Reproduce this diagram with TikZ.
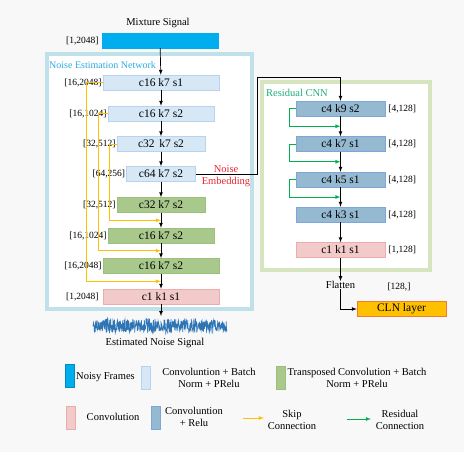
\documentclass[tikz,border=0pt]{standalone}
\usepackage{fontspec}
\setmainfont{Liberation Serif}
\usetikzlibrary{positioning,calc}
\definecolor{pagegrey}{RGB}{248,248,248}
\definecolor{noisyblue}{RGB}{0,174,239}
\definecolor{convblue}{RGB}{214,231,246}
\definecolor{convblueline}{RGB}{185,211,238}
\definecolor{tconvgreen}{RGB}{169,201,140}
\definecolor{tconvgreenline}{RGB}{156,191,124}
\definecolor{convpink}{RGB}{242,202,202}
\definecolor{convpinkline}{RGB}{236,172,172}
\definecolor{relublue}{RGB}{148,185,209}
\definecolor{relublueline}{RGB}{126,166,216}
\definecolor{skipyellow}{RGB}{255,192,0}
\definecolor{resgreen}{RGB}{0,176,80}
\definecolor{netframe}{RGB}{192,224,234}
\definecolor{netlabel}{RGB}{45,170,225}
\definecolor{resframe}{RGB}{215,228,192}
\definecolor{reslabel}{RGB}{31,176,120}
\definecolor{embred}{RGB}{232,40,50}
\definecolor{clnfill}{RGB}{255,192,0}
\definecolor{clnline}{RGB}{237,125,49}
\definecolor{wavecol}{RGB}{46,117,182}

\begin{document}
\begin{tikzpicture}[x=1pt, y=-1pt, >=latex,
    blk/.style={draw, rectangle, inner sep=0pt, minimum height=15pt, font=\fontsize{11.5}{12}\selectfont},
    conv/.style={blk, fill=convblue, draw=convblueline},
    tconv/.style={blk, fill=tconvgreen, draw=tconvgreenline},
    plain/.style={blk, fill=convpink, draw=convpinkline},
    relu/.style={blk, fill=relublue, draw=relublueline},
    dim/.style={inner sep=0pt, font=\fontsize{9.5}{11}\selectfont},
    txt/.style={inner sep=0pt, align=center, font=\fontsize{10.5}{12.5}\selectfont},
    swatch/.style={draw, rectangle, inner sep=0pt, minimum width=9pt, minimum height=23pt},
    flow/.style={->, black, line width=0.7pt},
    skip/.style={->, skipyellow, line width=0.8pt},
    res/.style={->, resgreen, line width=0.8pt}]

    % page and group frames
    \fill[pagegrey] (0,0) rectangle (464,452);
    \useasboundingbox (0,0) rectangle (464,452);
    \draw[netframe, line width=3.5pt, fill=white] (47,54) rectangle (252,309);
    \draw[resframe, line width=3.5pt, fill=white] (262,82) rectangle (430,270);
    \node[txt, anchor=west, text=netlabel, font=\fontsize{10}{12}\selectfont] (netname) at (49,65) {Noise Estimation Network};
    \node[txt, anchor=west, text=reslabel] (resname) at (266,93) {Residual CNN};

    % input
    \node[txt] (mix) at (158,23) {Mixture Signal};
    \node[blk, fill=noisyblue, draw=noisyblue, minimum width=116pt] (bar) at (160,40.5) {};
    \node[dim, left=3pt of bar] (dbar) {[1,2048]};

    % noise estimation network
    \node[conv, minimum width=116pt] (b1) at (161,82.5) {c16 k7 s1};
    \node[conv, minimum width=106pt] (b2) at (161,113.5) {c16 k7 s2};
    \node[conv, minimum width=88pt] (b3) at (161,144) {c32\, k7 s2};
    \node[conv, minimum width=69pt] (b4) at (161,174) {c64 k7 s2};
    \node[tconv, minimum width=88pt] (b5) at (161,205) {c32 k7 s2};
    \node[tconv, minimum width=106pt] (b6) at (161,235.5) {c16 k7 s2};
    \node[tconv, minimum width=116pt] (b7) at (161,266) {c16 k7 s2};
    \node[plain, minimum width=116pt] (b8) at (161,296.5) {c1 k1 s1};

    \node[dim, left=1pt of b1] (d1) {[16,2048]};
    \node[dim, left=1pt of b2] (d2) {[16,1024]};
    \node[dim, left=1pt of b3] (d3) {[32,512]};
    \node[dim, left=1pt of b4] (d4) {[64,256]};
    \node[dim, left=1pt of b5] (d5) {[32,512]};
    \node[dim, left=1pt of b6] (d6) {[16,1024]};
    \node[dim, left=1pt of b7] (d7) {[16,2048]};
    \node[dim, left=4pt of b8] (d8) {[1,2048]};

    \draw[flow] (bar) -- (b1);
    \draw[flow] (b1) -- (b2);
    \draw[flow] (b2) -- (b3);
    \draw[flow] (b3) -- (b4);
    \draw[flow] (b4) -- (b5);
    \draw[flow] (b5) -- (b6);
    \draw[flow] (b6) -- (b7);
    \draw[flow] (b7) -- (b8);

    % skip connections
    \draw[skip] (b1.west) -- ++(-16,0) |- ($(b7.south)!0.5!(b8.north)$);
    \draw[skip] (b2.west) -- ++(-9,0) |- ($(b6.south)!0.5!(b7.north)$);
    \draw[skip] (b3.west) -- ++(-7,0) |- ($(b5.south)!0.5!(b6.north)$);

    % estimated noise
    \coordinate (wavetop) at (161,316);
    \draw[flow] (b8) -- (wavetop);
    \pgfmathsetseed{11}
    \draw[wavecol, line width=0.6pt] plot[domain=93:227, samples=600]
        (\x, {326 + (5 + 3*abs(sin(\x*9)))*rand});
    \node[txt] (est) at (155,343) {Estimated Noise Signal};

    % residual cnn
    \node[relu, minimum width=89pt] (r1) at (340.5,108.5) {c4 k9 s2};
    \node[relu, minimum width=89pt] (r2) at (340.5,144) {c4 k7 s1};
    \node[relu, minimum width=89pt] (r3) at (340.5,179.5) {c4 k5 s1};
    \node[relu, minimum width=89pt] (r4) at (340.5,214.5) {c4 k3 s1};
    \node[plain, minimum width=89pt] (r5) at (340.5,250) {c1 k1 s1};

    \node[dim, right=3pt of r1] (e1) {[4,128]};
    \node[dim, right=3pt of r2] (e2) {[4,128]};
    \node[dim, right=3pt of r3] (e3) {[4,128]};
    \node[dim, right=3pt of r4] (e4) {[4,128]};
    \node[dim, right=3pt of r5] (e5) {[1,128]};

    \draw[flow] (r1) -- (r2);
    \draw[flow] (r2) -- (r3);
    \draw[flow] (r3) -- (r4);
    \draw[flow] (r4) -- (r5);

    \draw[res] (r1.west) -- ++(-6,0) |- ($(r1.south)!0.5!(r2.north)$);
    \draw[res] (r2.west) -- ++(-6,0) |- ($(r2.south)!0.5!(r3.north)$);
    \draw[res] (r3.west) -- ++(-6,0) |- ($(r3.south)!0.5!(r4.north)$);

    % noise embedding
    \coordinate (emb) at (257,77);
    \draw[flow] (b4.east) -| (emb) -| (r1.north);
    \node[txt, text=embred] (embname) at (226,176) {Noise\\Embedding};

    % output
    \node[txt] (flat) at (340.5,285) {Flatten};
    \node[dim] (dflat) at (399,287) {[128,]};
    \node[blk, fill=clnfill, draw=clnline, minimum width=89pt] (cln) at (401.5,309) {CLN layer};
    \draw[flow] (r5) -- (flat);
    \draw[flow] (flat.south) |- (cln.west);

    % legend
    \node[swatch, fill=noisyblue, draw=noisyblue!80!black] (l1) at (69.5,376) {};
    \node[txt] (t1) at (105.5,377.5) {Noisy Frames};
    \node[swatch, fill=convblue, draw=convblueline] (l2) at (146,377.5) {};
    \node[txt] (t2) at (209,378) {Convoluntion + Batch\\Norm + PRelu};
    \node[swatch, fill=tconvgreen, draw=tconvgreenline] (l3) at (280.5,377.5) {};
    \node[txt] (t3) at (357,378) {Transposed Convolution + Batch\\Norm + PRelu};
    \node[swatch, fill=convpink, draw=convpinkline] (l4) at (70.5,417.5) {};
    \node[txt] (t4) at (113,417) {Convolution};
    \node[swatch, fill=relublue, draw=relublueline] (l5) at (156,417.5) {};
    \node[txt] (t5) at (194,417) {Convoluntion\\+ Relu};
    \coordinate (s0) at (243,418);
    \coordinate (s1) at (264,418);
    \draw[skip] (s0) -- (s1);
    \node[txt] (t6) at (292,420) {Skip\\Connection};
    \coordinate (g0) at (347,419);
    \coordinate (g1) at (371,419);
    \draw[res] (g0) -- (g1);
    \node[txt] (t7) at (400,420) {Residual\\Connection};
\end{tikzpicture}
\end{document}
